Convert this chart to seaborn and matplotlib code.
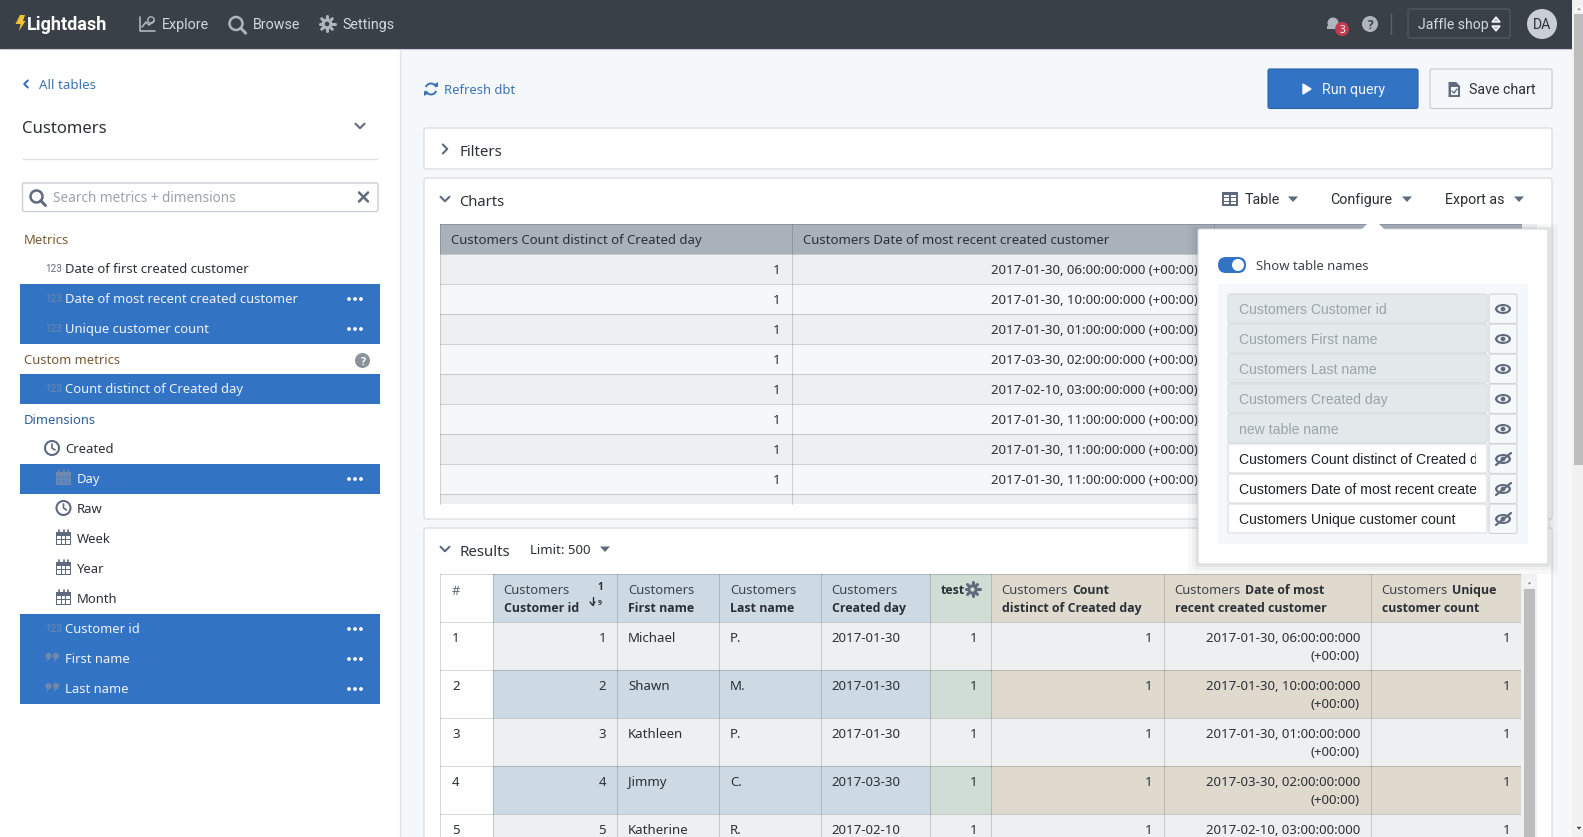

# Lightdash explore page screenshot redrawn with matplotlib and seaborn.
# Everything is placed on pixel axes, the two tables are seaborn heatmaps.

import matplotlib
matplotlib.use("Agg")
import matplotlib.pyplot as plt
import numpy as np
import pandas as pd
import seaborn as sns
from matplotlib.colors import ListedColormap
from matplotlib.patches import Arc, Circle, Ellipse, FancyBboxPatch, Polygon, Rectangle

W, H = 1583, 837

# ---- data ----
NAV_ITEMS = ["Explore", "Browse", "Settings"]
METRICS = ["Date of first created customer", "Date of most recent created customer", "Unique customer count"]
METRICS_SELECTED = [False, True, True]
CUSTOM_METRICS = ["Count distinct of Created day"]
TIME_ITEMS = ["Day", "Raw", "Week", "Year", "Month"]
DIMENSIONS = ["Customer id", "First name", "Last name"]

CHART_HEADERS = ["Customers Count distinct of Created day", "Customers Date of most recent created customer"]
CHART_COUNTS = ["1", "1", "1", "1", "1", "1", "1", "1"]
CHART_DATES = [
    "2017-01-30, 06:00:00:000 (+00:00)",
    "2017-01-30, 10:00:00:000 (+00:00)",
    "2017-01-30, 01:00:00:000 (+00:00)",
    "2017-03-30, 02:00:00:000 (+00:00)",
    "2017-02-10, 03:00:00:000 (+00:00)",
    "2017-01-30, 11:00:00:000 (+00:00)",
    "2017-01-30, 11:00:00:000 (+00:00)",
    "2017-01-30, 11:00:00:000 (+00:00)",
]

POPUP_HIDDEN = ["Customers Customer id", "Customers First name", "Customers Last name",
                "Customers Created day", "new table name"]
POPUP_SHOWN = ["Customers Count distinct of Created day", "Customers Date of most recent created customer",
               "Customers Unique customer count"]

ROW_IDS = [1, 2, 3, 4, 5]
FIRST_NAMES = ["Michael", "Shawn", "Kathleen", "Jimmy", "Katherine"]
LAST_NAMES = ["P.", "M.", "P.", "C.", "R."]
CREATED_DAYS = ["2017-01-30", "2017-01-30", "2017-01-30", "2017-03-30", "2017-02-10"]
TEST_VALUES = [1, 1, 1, 1, 1]
COUNT_VALUES = [1, 1, 1, 1, 1]
RECENT_DATES = ["2017-01-30, 06:00:00:000", "2017-01-30, 10:00:00:000", "2017-01-30, 01:00:00:000",
                "2017-03-30, 02:00:00:000", "2017-02-10, 03:00:00:000"]
UNIQUE_VALUES = [1, 1, 1, 1, 1]
DIM_HEADERS = ["Customer id", "First name", "Last name", "Created day"]
METRIC_HEADERS = [("Count", "distinct of Created day"), ("Date of most", "recent created customer"),
                  ("Unique", "customer count")]

# ---- colours ----
NAVY = "#3a4048"
BLUE = "#3373c4"
INK = "#2a3036"
GREY = "#5f6b7c"
LINK = "#3b73b5"
PAGE = "#f5f8fa"
ON_BLUE = "#eef3fa"
ICON_ON_BLUE = "#6f88ad"
# palette for the heatmap cells
CELL_COLOURS = ["#ffffff", "#edeff0", "#f5f7f8", "#a9b2ba", "#cddae3", "#cfddd4", "#e0d9ce"]
WHITE, GREY_ROW, LIGHT_ROW, CHART_HEAD, DIM, TEST, METRIC = range(7)

sns.set_theme(style="white")
plt.rcParams["font.family"] = ["Noto Sans", "DejaVu Sans"]

# the small extra keeps 8.37 * 100 from being floored to 836 pixels
fig = plt.figure(figsize=((W + 0.01) / 100, (H + 0.01) / 100), dpi=100, facecolor="white")


def pixel_axes(zorder):
    ax = fig.add_axes([0, 0, 1, 1], zorder=zorder)
    ax.set_xlim(0, W)
    ax.set_ylim(H, 0)
    ax.axis("off")
    return ax


base = pixel_axes(0)
top = pixel_axes(2)
renderer = fig.canvas.get_renderer()


def rect(ax, x0, y0, x1, y1, color, edge=None, z=1, r=0, lw=0.8, alpha=None):
    if r:
        p = FancyBboxPatch((x0, y0), x1 - x0, y1 - y0, boxstyle=f"round,pad=0,rounding_size={r}",
                           fc=color, ec=edge or "none", lw=lw, zorder=z, alpha=alpha)
    else:
        p = Rectangle((x0, y0), x1 - x0, y1 - y0, fc=color, ec=edge or "none", lw=lw, zorder=z, alpha=alpha)
    ax.add_patch(p)


def label(x, y, s, size=13, color=INK, ha="left", weight="normal", z=3, family=None):
    if weight == "bold" and family is None:
        family = "Open Sans"
    kw = {"family": family} if family else {}
    return top.text(x, y, s, fontsize=size * 0.72, color=color, ha=ha, va="center_baseline",
                    fontweight=weight, zorder=z, **kw)


def line(xs, ys, color=GREY, lw=1.5, z=3):
    top.plot(xs, ys, color=color, lw=lw, zorder=z, solid_capstyle="round", solid_joinstyle="round")


def chevron(x, y, direction="down", s=4, color=GREY):
    if direction == "down":
        line([x - s, x, x + s], [y - s / 2, y + s / 2, y - s / 2], color)
    elif direction == "right":
        line([x - s / 2, x + s / 2, x - s / 2], [y - s, y, y + s], color)
    else:
        line([x + s / 2, x - s / 2, x + s / 2], [y - s, y, y + s], color)


def caret(x, y, color=GREY, z=3):
    top.add_patch(Polygon([[x - 5, y - 2.5], [x + 5, y - 2.5], [x, y + 3]], fc=color, ec="none", zorder=z))


def gear(x, y, r, color, bg, z=3):
    for a in np.arange(0, np.pi, np.pi / 4):
        line([x - r * np.cos(a), x + r * np.cos(a)], [y - r * np.sin(a), y + r * np.sin(a)], color, 2.2, z)
    top.add_patch(Circle((x, y), r * 0.72, fc=color, ec="none", zorder=z))
    top.add_patch(Circle((x, y), r * 0.3, fc=bg, ec="none", zorder=z))


def magnifier(x, y, r, color, lw=1.8):
    top.add_patch(Circle((x, y), r, fc="none", ec=color, lw=lw, zorder=3))
    line([x + r * 0.7, x + r * 1.5], [y + r * 0.7, y + r * 1.5], color, lw + 0.3)


def clock(x, y, color=GREY):
    top.add_patch(Circle((x, y), 7, fc="none", ec=color, lw=1.5, zorder=3))
    line([x, x, x + 3], [y - 4, y, y + 2], color, 1.2)


def calendar(x, y, color=GREY, hole="white"):
    rect(top, x - 7.5, y - 6, x + 7.5, y + 7.5, color, z=3)
    for gx in (-4.5, 0, 4.5):
        top.plot([x + gx, x + gx], [y - 8, y - 5], color=color, lw=1.2, zorder=3)
        for gy in (-0.5, 4):
            rect(top, x + gx - 1.7, y + gy - 1.6, x + gx + 1.7, y + gy + 1.6, hole, z=4)


def dots(x, y):
    for dx in (-6, 0, 6):
        top.add_patch(Circle((x + dx, y), 1.9, fc="white", ec="none", zorder=3))


def quote_icon(y):
    for x in (48.5, 56):
        top.add_patch(Circle((x, y - 2), 3.1, fc=ICON_ON_BLUE, ec="none", zorder=3))
        top.add_patch(Polygon([[x + 0.5, y - 3], [x + 3.1, y - 2], [x - 2.5, y + 5]], fc=ICON_ON_BLUE, ec="none", zorder=3))


def eye(x, y, crossed=False):
    top.add_patch(Ellipse((x, y), 16, 10, fc=GREY, ec="none", zorder=7))
    top.add_patch(Ellipse((x, y), 11, 6, fc=PAGE, ec="none", zorder=7))
    top.add_patch(Circle((x, y), 2.4, fc=GREY, ec="none", zorder=7))
    if crossed:
        line([x - 7, x + 8], [y + 6, y - 6], GREY, 1.6, 7)


def draw_table(edges, y0, row_h, codes, n_rows=None):
    """One heatmap per column so each column can have its own width."""
    shown = codes.shape[0] if n_rows is None else n_rows
    for i in range(codes.shape[1]):
        left, right = edges[i], edges[i + 1]
        ax = fig.add_axes([left / W, 1 - (y0 + shown * row_h) / H, (right - left) / W, shown * row_h / H], zorder=1)
        sns.heatmap(pd.DataFrame(codes[:, [i]]), ax=ax, cmap=ListedColormap(CELL_COLOURS), vmin=0,
                    vmax=len(CELL_COLOURS) - 1, cbar=False, xticklabels=False, yticklabels=False)
        ax.set_ylim(shown, 0)
    # cell borders, a soft dark so they tint with the row underneath
    bottom = y0 + shown * row_h
    for x in edges:
        top.plot([x, x], [y0, bottom], color="#10161a", alpha=0.17, lw=0.75, zorder=1.5)
    for r in range(codes.shape[0] + 1):
        y = y0 + r * row_h
        if y <= bottom:
            top.plot([edges[0], edges[-1]], [y, y], color="#10161a", alpha=0.17, lw=0.75, zorder=1.5)


# ---- page background and side panel ----
rect(base, 400, 49, W, H, PAGE)
base.plot([400, 400], [49, H], color="#dfe3e6", lw=1)

# ---- navbar ----
rect(top, 0, 0, 1572, 49, NAVY)
top.plot([0, 1572], [49.5, 49.5], color="#c9ccd0", lw=0.8, zorder=1)
top.add_patch(Polygon([[20, 15], [25, 15], [23, 21], [25.5, 21], [19, 31], [20.5, 24], [15.5, 24]],
                      fc="#f2c230", ec="none", zorder=3))
label(27, 23, "Lightdash", 18, "white", weight="bold", family="Roboto")
NAV_TEXT_X = [162, 252.5, 342]
for x, s in zip(NAV_TEXT_X, NAV_ITEMS):
    label(x, 23.2, s, 14.3, "#d3d8de", family="Roboto")
line([140, 140, 155], [17, 31, 31], "#aeb5bc", 1.2)
line([142, 146, 149, 154], [27, 22, 25, 21], "#aeb5bc", 1.2)
top.add_patch(Circle((151, 20), 3.2, fc="none", ec="#aeb5bc", lw=1, zorder=3))
magnifier(236, 23.5, 6.5, "#aeb5bc", 1.8)
gear(327, 24, 7.5, "#aeb5bc", NAVY)

# notifications, help, project switcher, avatar
top.add_patch(Circle((1333, 23), 5.5, fc="#aeb5bc", ec="none", zorder=3))
rect(top, 1327, 26, 1339, 29, "#aeb5bc", z=3)
top.add_patch(Circle((1342, 29), 7, fc="#c23b52", ec="none", zorder=4))
label(1342, 29, "3", 10, "white", "center", z=5)
top.add_patch(Circle((1370, 24), 8, fc="#aeb5bc", ec="none", zorder=3))
label(1370, 24, "?", 12, NAVY, "center", "bold")
top.plot([1391, 1391], [14, 34], color="#5a626b", lw=1, zorder=3)
rect(top, 1408, 9, 1510, 38, NAVY, "#565d65", z=2, r=2)
label(1418, 23.2, "Jaffle shop", 14, "#d3d8de", family="Roboto")
top.add_patch(Polygon([[1492, 22], [1500, 22], [1496, 17]], fc="#aeb5bc", zorder=3))
top.add_patch(Polygon([[1492, 26], [1500, 26], [1496, 31]], fc="#aeb5bc", zorder=3))
top.add_patch(Circle((1542, 24), 15, fc="#c9ced4", ec="none", zorder=3))
label(1542, 23.5, "DA", 14, INK, "center", family="Roboto", z=4)

# page scrollbar
rect(top, 1572, 0, W, H, "#f1f1f1", z=1)
rect(top, 1574, 14, W, 465, "#bdbdbd", z=2)
top.add_patch(Polygon([[1575, 11], [1583, 11], [1579, 6]], fc="#b0b0b0", zorder=3))
top.add_patch(Polygon([[1575, 826], [1583, 826], [1579, 831]], fc="#505050", zorder=3))

# ---- sidebar ----
chevron(26, 84, "left", 3.5, LINK)
label(39, 84, "All tables", 13.3, LINK)
label(22, 127, "Customers", 16.7)
chevron(360, 126, "down", 4.5)
top.plot([23, 377], [159.5, 159.5], color="#dce0e3", lw=1, zorder=3)
rect(top, 22.5, 183, 378, 211.5, "white", "#c9ced3", r=2, lw=1)
magnifier(36.5, 196.5, 6, GREY, 1.8)
label(53, 196.2, "Search metrics + dimensions", 13.6, "#9aa3ab")
line([359, 368], [192.5, 201.5], GREY, 1.8)
line([359, 368], [201.5, 192.5], GREY, 1.8)


def number_icon(y, selected):
    label(45, y, "123", 10, ICON_ON_BLUE if selected else GREY, family="Roboto")


label(24, 239, "Metrics", 13, "#7a5a34")
for i, (name, selected) in enumerate(zip(METRICS, METRICS_SELECTED)):
    y = 268 + 30 * i
    if selected:
        rect(top, 20, y - 14, 380, y + 16, BLUE)
        dots(355, y + 1)
    number_icon(y, selected)
    label(65, y, name, 13, ON_BLUE if selected else INK)

label(24, 359, "Custom metrics", 13, "#7a5a34")
top.add_patch(Circle((362.5, 360.5), 7.5, fc="#8a939c", ec="none", zorder=3))
label(362.5, 360.5, "?", 11, "white", "center", "bold")
rect(top, 20, 374, 380, 404, BLUE)
number_icon(388, True)
label(65, 388, CUSTOM_METRICS[0], 13, ON_BLUE)

label(24, 419, "Dimensions", 13, "#2f5f9e")
clock(52, 448)
label(65, 448, "Created", 13)
for i, name in enumerate(TIME_ITEMS):
    y = 478 + 30 * i
    selected = name == "Day"
    if selected:
        rect(top, 20, 464, 380, 494, BLUE)
        dots(355, 479)
    if name == "Raw":
        clock(63.5, y)
    elif selected:
        calendar(63.5, y, ICON_ON_BLUE, "#5a82bd")
    else:
        calendar(63.5, y)
    label(77, y, name, 13, ON_BLUE if selected else INK)

rect(top, 20, 614, 380, 704, BLUE)
for i, name in enumerate(DIMENSIONS):
    y = 628 + 30 * i
    if i == 0:
        number_icon(y, True)
    else:
        quote_icon(y)
    label(65, y, name, 13, ON_BLUE)
    dots(355, y + 1)

# ---- top actions ----
top.add_patch(Arc((431, 89), 11, 11, theta1=200, theta2=340, ec=LINK, lw=1.4, zorder=3))
top.add_patch(Arc((431, 89), 11, 11, theta1=20, theta2=160, ec=LINK, lw=1.4, zorder=3))
top.add_patch(Polygon([[433, 85], [438, 82], [438, 87]], fc=LINK, ec="none", zorder=3))
top.add_patch(Polygon([[429, 93], [424, 96], [424, 91]], fc=LINK, ec="none", zorder=3))
label(444, 89, "Refresh dbt", 13, LINK)
rect(top, 1268, 69, 1418, 108.5, BLUE, "#2b63a8", r=2)
top.add_patch(Polygon([[1303, 84], [1303, 94], [1311, 89]], fc="white", zorder=3))
label(1322, 88.2, "Run query", 14.2, ON_BLUE, family="Roboto")
rect(top, 1430, 69, 1552, 108.5, PAGE, "#c4c9ce", r=2)
top.add_patch(Polygon([[1448.5, 82], [1456, 82], [1460, 86], [1460, 97], [1448.5, 97]], fc=GREY, ec="none", zorder=3))
rect(top, 1450.5, 87, 1458, 95, PAGE, z=3)
line([1452, 1454, 1457], [91, 93, 89], GREY, 1)
label(1469, 88.2, "Save chart", 14.2, family="Roboto")

# ---- panels ----
for y0, y1 in [(128, 169), (178, 519), (528, H + 10)]:
    rect(base, 424, y0, 1552, y1, "white", "#d5d9dd", r=2, z=2)
chevron(445, 149, "right", 4.5)
label(459, 150, "Filters", 15)
chevron(445, 199, "down", 4.5)
label(459.5, 200, "Charts", 14.8)
rect(top, 1222, 192.5, 1238, 206, GREY, z=3)
for gy in (195, 198.5, 202):
    rect(top, 1224, gy, 1229, gy + 2.2, "white", z=4)
    rect(top, 1231, gy, 1236, gy + 2.2, "white", z=4)
label(1244.5, 198.2, "Table", 14.2, family="Roboto")
caret(1293, 199)
label(1330.5, 198.2, "Configure", 14.2, family="Roboto")
caret(1407, 199)
label(1444.5, 198.2, "Export as", 14.2, family="Roboto")
caret(1519, 199)

# ---- chart table ----
chart_edges = [440, 792, 1214, 1522]
chart_codes = np.empty((10, 3), dtype=int)
chart_codes[0, :] = CHART_HEAD
for r in range(1, 10):
    chart_codes[r, :] = GREY_ROW if r % 2 else LIGHT_ROW
draw_table(chart_edges, 224, 30, chart_codes, n_rows=280 / 30)
rect(top, 1522, 224, 1537, 232, "#f1f1f1", z=2)

label(451, 239, CHART_HEADERS[0], 13.2)
label(803, 239, CHART_HEADERS[1], 13.2)
for i, (count, date) in enumerate(zip(CHART_COUNTS, CHART_DATES)):
    y = 268.5 + 30 * i
    label(780, y, count, 13.2, ha="right")
    label(990.5, y, date, 13.2)

# ---- results ----
chevron(445, 549, "down", 4.5)
label(459.5, 550.2, "Results", 15)
label(529.5, 549, "Limit: 500", 13.2)
caret(605, 549)

res_edges = [440, 493, 617, 719, 820.5, 930, 991, 1164, 1371, 1521]
res_kinds = [WHITE, DIM, DIM, DIM, DIM, TEST, METRIC, METRIC, METRIC]
res_codes = np.empty((6, 9), dtype=int)
for c, kind in enumerate(res_kinds):
    res_codes[0, c] = kind
    for r in range(1, 6):
        if kind == WHITE:
            res_codes[r, c] = WHITE
        else:
            res_codes[r, c] = kind if r % 2 == 0 else GREY_ROW
draw_table(res_edges, 574, 48, res_codes)

label(452, 590, "#", 13, GREY)
for x, head in zip([503.5, 628, 730, 831.5], DIM_HEADERS):
    label(x, 589, "Customers", 13, "#3c444c")
    label(x, 607, head, 12.4, INK, weight="bold")
label(941, 589, "test", 12.4, INK, weight="bold")
gear(972.5, 589.5, 7, GREY, CELL_COLOURS[TEST])
label(600, 586, "1", 10, INK, "center", "bold")
label(600, 602, "9", 7, INK, "center", "bold")
line([592.5, 592.5], [597, 605], INK, 1)
line([590, 592.5, 595], [602, 605, 602], INK, 1)

for x, (first, second) in zip([1001.5, 1174.5, 1381.5], METRIC_HEADERS):
    t = label(x, 589, "Customers", 13, "#3c444c")
    width = t.get_window_extent(renderer).width
    label(x + width + 4, 589, first, 12.4, INK, weight="bold")
    label(x, 607, second, 12.4, INK, weight="bold")

for i in range(5):
    y = 637 + 48 * i
    label(452, y, str(ROW_IDS[i]), 13.2)
    label(606, y, str(ROW_IDS[i]), 13.2, ha="right")
    label(628, y, FIRST_NAMES[i], 13.2)
    label(730, y, LAST_NAMES[i], 13.2)
    label(831.5, y, CREATED_DAYS[i], 13.2)
    label(977, y, str(TEST_VALUES[i]), 13.2, ha="right")
    label(1152, y, str(COUNT_VALUES[i]), 13.2, ha="right")
    label(1360, y, RECENT_DATES[i], 13.2, ha="right")
    if i < 4:
        label(1360, y + 18, "(+00:00)", 13.2, ha="right")
    label(1510, y, str(UNIQUE_VALUES[i]), 13.2, ha="right")

rect(top, 1521, 574, 1537, H, "#f1f1f1", z=2)
rect(top, 1524, 589, 1535, H, "#bdbdbd", z=3)
top.add_patch(Polygon([[1526, 585], [1533, 585], [1529.5, 580]], fc="#a0a0a0", zorder=3))

# ---- configure popup ----
for grow, a in [(10, 0.03), (6, 0.04), (3, 0.06)]:
    rect(top, 1198 - grow, 229 - grow / 2, 1548 + grow, 564 + grow, "#20303f", z=4.5, r=4, alpha=a)
rect(top, 1198, 229, 1548, 564, "white", "#d4d8dc", z=5, r=2)
top.add_patch(Polygon([[1361, 230], [1373, 218], [1385, 230]], fc="white", ec="none", zorder=6))

rect(top, 1218, 257, 1246, 273, BLUE, z=6, r=8)
top.add_patch(Circle((1238, 265), 6, fc="white", ec="none", zorder=7))
label(1256, 265, "Show table names", 13.1, "#3c444c", z=6)
rect(top, 1218, 284, 1528, 544, "#f5f8fa", z=5.5)

for i, name in enumerate(POPUP_HIDDEN + POPUP_SHOWN):
    y = 309 + 30 * i
    hidden = i < len(POPUP_HIDDEN)
    rect(top, 1228, y - 15, 1487, y + 14, "#e3e8ea" if hidden else "white", "#d8dcdf", z=6, r=2)
    rect(top, 1489, y - 15, 1517, y + 14.5, "#f5f8fa", "#cfd3d7", z=6, r=2)
    t = label(1239, y - 0.5, name, 14, "#9aa3ab" if hidden else "#1c2127", z=7, family="Liberation Sans")
    # long names are cut by the input box
    t.set_clip_path(Rectangle((1239, y - 15), 237, 29, transform=top.transData))
    t.set_clip_on(True)
    eye(1503, y, crossed=not hidden)

fig.savefig("out.png", dpi=100, facecolor="white")
